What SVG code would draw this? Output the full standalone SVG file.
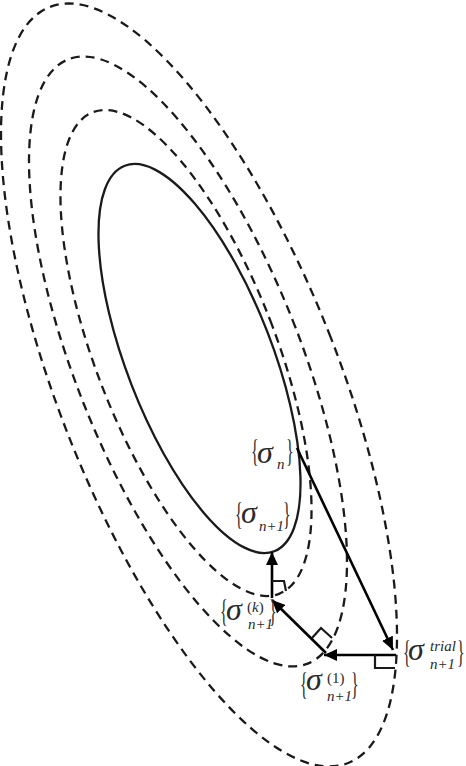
<svg xmlns="http://www.w3.org/2000/svg" width="466" height="766" viewBox="0 0 466 766">
<style>
.c{fill:none;stroke:#1a1a1a;stroke-width:2.3}
.d{stroke-dasharray:9,6}
.a{fill:none;stroke:#000;stroke-width:2.6}
.m{fill:none;stroke:#1a1a1a;stroke-width:2.2}
text{font-family:"Liberation Serif","Times New Roman",serif;fill:#2a2a2a}
.b{font-size:29px}
.s{font-size:32px;font-style:italic}
.sub{font-size:15px;font-style:italic}
.sup{font-size:15px;font-style:normal}
.supi{font-size:15px;font-style:italic}
</style>
<defs>
<marker id="ah" markerUnits="userSpaceOnUse" markerWidth="14" markerHeight="12" refX="13" refY="6" orient="auto">
<path d="M0,0 L13,6 L0,12 z" fill="#000"/>
</marker>
</defs>
<rect width="466" height="766" fill="#fff"/>
<g id="contours">
<ellipse id="yield-n1" class="c" cx="0" cy="0" rx="72.9" ry="206.7" transform="translate(199.5,358.5) rotate(-21.2)"/>
<ellipse id="contour-k" class="c d" cx="0" cy="0" rx="90.3" ry="258.2" transform="translate(186,353) rotate(-21.13)"/>
<ellipse id="contour-1" class="c d" cx="0" cy="0" rx="112.5" ry="325" transform="translate(188,361.5) rotate(-21.62)"/>
<ellipse id="contour-trial" class="c d" cx="0" cy="0" rx="140" ry="406.4" transform="translate(199,385) rotate(-21.53)"/>
</g>
<g id="connectors">
<line class="a" x1="297" y1="448" x2="393" y2="650" marker-end="url(#ah)"/>
<line class="a" x1="396" y1="655" x2="324" y2="655" marker-end="url(#ah)"/>
<line class="a" x1="326" y1="653" x2="272" y2="600" marker-end="url(#ah)"/>
<line class="a" x1="272" y1="598" x2="272" y2="552" marker-end="url(#ah)"/>
<path class="m" d="M375,655 V668 H395"/>
<path class="m" d="M312,638 L321,628 L332,638"/>
<path class="m" d="M272,581 H284 L286,591"/>
</g>
<g id="sigma-n">
<text class="b" transform="translate(251,462) scale(0.55,1.12)">{</text>
<text><tspan class="s" x="257" y="463">σ</tspan><tspan class="sub" x="277" y="469">n</tspan></text>
<text class="b" transform="translate(286,462) scale(0.55,1.12)">}</text>
</g>
<g id="sigma-n1">
<text class="b" transform="translate(235,525) scale(0.55,1.12)">{</text>
<text><tspan class="s" x="241" y="523">σ</tspan><tspan class="sub" x="259" y="531">n+1</tspan></text>
<text class="b" transform="translate(283,525) scale(0.55,1.12)">}</text>
</g>
<g id="sigma-k">
<text class="b" transform="translate(220,622) scale(0.55,1.12)">{</text>
<text><tspan class="s" x="226" y="620">σ</tspan><tspan class="sup" x="247" y="612">(</tspan><tspan class="supi">k</tspan><tspan class="sup">)</tspan><tspan class="sub" x="248" y="629">n+1</tspan></text>
<text class="b" transform="translate(269,622) scale(0.55,1.12)">}</text>
</g>
<g id="sigma-1">
<text class="b" transform="translate(300,695) scale(0.55,1.12)">{</text>
<text><tspan class="s" x="306" y="690">σ</tspan><tspan class="sup" x="327" y="683">(1)</tspan><tspan class="sub" x="327" y="701">n+1</tspan></text>
<text class="b" transform="translate(351,695) scale(0.55,1.12)">}</text>
</g>
<g id="sigma-trial">
<text class="b" transform="translate(403,663) scale(0.55,1.12)">{</text>
<text><tspan class="s" x="408" y="660">σ</tspan><tspan class="supi" x="430" y="651">trial</tspan><tspan class="sub" x="430" y="669">n+1</tspan></text>
<text class="b" transform="translate(457,663) scale(0.55,1.12)">}</text>
</g>
</svg>
